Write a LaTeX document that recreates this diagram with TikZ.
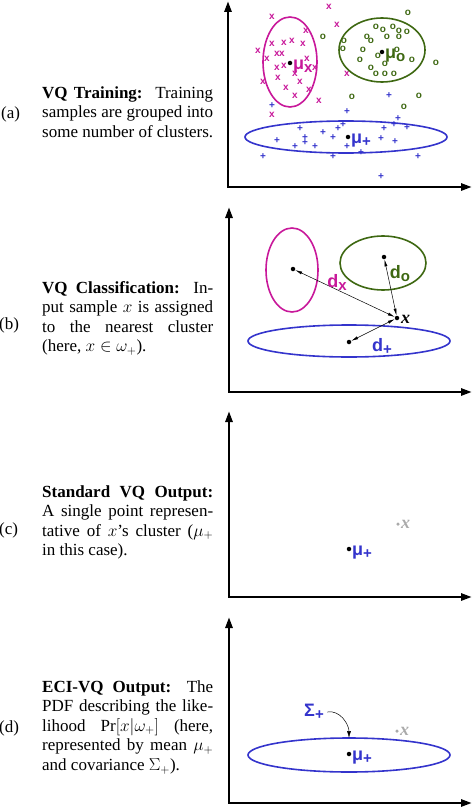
\documentclass[tikz,border=0pt]{standalone}
\usepackage{fontspec}
\setmainfont{Liberation Serif}
\setsansfont{Liberation Sans}
\usetikzlibrary{arrows.meta}
\definecolor{vqmag}{RGB}{200,24,154}
\definecolor{vqgreen}{RGB}{62,104,18}
\definecolor{vqblue}{RGB}{52,52,204}
\definecolor{vqgray}{RGB}{170,170,170}
\newcommand{\symlab}[2]{\sffamily\bfseries\fontsize{18}{18}\selectfont #1\raisebox{-3pt}{\fontsize{15}{15}\selectfont #2}}
\tikzset{
  axis/.style={line width=2.6pt, {Triangle[length=11pt,width=7pt]}-{Triangle[length=11pt,width=7pt]}},
  cluster/.style={line width=1.6pt},
  dot/.style={circle, fill=black, inner sep=0pt, minimum size=4.5pt},
  gdot/.style={circle, fill=vqgray, inner sep=0pt, minimum size=3.5pt},
  xmark/.style={font=\sffamily\bfseries\fontsize{10}{10}\selectfont, text=vqmag, inner sep=0pt},
  omark/.style={font=\sffamily\bfseries\fontsize{10}{10}\selectfont, text=vqgreen, inner sep=0pt},
  pmark/.style={font=\sffamily\bfseries\fontsize{10}{10}\selectfont, text=vqblue, inner sep=0pt},
  dist/.style={line width=0.5pt, {Latex[length=7pt,width=3pt]}-{Latex[length=7pt,width=3pt]}},
  caption/.style={anchor=base west, text width=171pt, align=justify, inner sep=0pt, font=\fontsize{17}{19.6}\selectfont},
  tag/.style={anchor=base west, inner sep=0pt, font=\fontsize{17}{19.6}\selectfont},
  xlab/.style={anchor=west, inner sep=1pt, font=\fontsize{18}{18}\selectfont\bfseries\itshape},
}

\begin{document}
\begin{tikzpicture}[x=1pt, y=-1pt]
  \useasboundingbox (0,0) rectangle (474,808);

  \node[tag] (ta) at (1,118) {(a)};
  \node[caption] (ca) at (42,98) {\textbf{VQ Training:}\ \ Training\linebreak samples are grouped into\linebreak some number of clusters.};
  \node[tag] (tb) at (-1,329) {(b)};
  \node[caption] (cb) at (42,293) {\textbf{VQ Classification:} In-\linebreak put sample $x$ is assigned\linebreak to the nearest cluster\linebreak (here, $x\in\omega_+$).};
  \node[tag] (tc) at (-1,534) {(c)};
  \node[caption] (cc) at (42,497) {\textbf{Standard VQ Output:}\linebreak A single point represen-\linebreak tative of $x$'s cluster ($\mu_+$\linebreak in this case).};
  \node[tag] (td) at (-1,732) {(d)};
  \node[caption] (cd) at (42,692) {\textbf{ECI-VQ Output:} The\linebreak PDF describing the like-\linebreak lihood $\Pr[x|\omega_+]$ (here,\linebreak represented by mean $\mu_+$\linebreak and covariance $\Sigma_+$).};

  \coordinate (ya) at (228,1);
  \coordinate (oa) at (228,187);
  \coordinate (xa) at (472,187);
  \draw[axis] (ya) -- (oa) -- (xa);
  \coordinate (yb) at (229,207);
  \coordinate (ob) at (229,392);
  \coordinate (xb) at (472,392);
  \draw[axis] (yb) -- (ob) -- (xb);
  \coordinate (yc) at (229,411);
  \coordinate (oc) at (229,597);
  \coordinate (xc) at (472,597);
  \draw[axis] (yc) -- (oc) -- (xc);
  \coordinate (yd) at (229,617);
  \coordinate (od) at (229,803);
  \coordinate (xd) at (472,803);
  \draw[axis] (yd) -- (od) -- (xd);

  \foreach \p [count=\i] in {(272,17),(329,7),(337,25),(306,31),(258,51),(272,44),(284,43),(292,41),(303,44),(277,54),(282,54),(267,59),(307,59),(277,68),(284,66),(315,68),(278,78),(295,74),(263,82),(300,82),(286,88),(309,90),(347,74),(295,96),(319,101),(272,115)}
    \node[xmark] (mx\i) at \p {x};
  \foreach \p [count=\i] in {(408,13),(323,37),(376,27),(383,30),(393,27),(399,31),(407,32),(344,41),(343,49),(367,37),(371,41),(387,37),(399,37),(363,50),(378,56),(397,50),(360,60),(412,60),(436,63),(371,68),(385,64),(376,74),(385,74),(394,74),(352,97),(419,96),(404,107)}
    \node[omark] (mo\i) at \p {o};
  \foreach \p [count=\i] in {(389,96),(272,106),(347,112),(398,119),(394,125),(343,125),(338,129),(300,129),(323,133),(333,138),(277,141),(305,138),(305,143),(384,129),(407,128),(381,139),(395,142),(295,147),(315,147),(347,147),(361,153),(263,157),(333,157),(418,157),(381,177)}
    \node[pmark] (mp\i) at \p {+};

  \draw[cluster, vqmag] (290,62) ellipse [x radius=27, y radius=45];
  \draw[cluster, vqgreen] (382,50) ellipse [x radius=43, y radius=32];
  \draw[cluster, vqblue] (346,137) ellipse [x radius=101, y radius=16];
  \node[dot] (mua) at (290,63) {};
  \node[anchor=west, inner sep=1pt, text=vqmag] (lmua) at (292,67) {\symlab{μ}{x}};
  \node[dot] (moa) at (382,52) {};
  \node[anchor=west, inner sep=1pt, text=vqgreen] (lmoa) at (384,56) {\symlab{μ}{o}};
  \node[dot] (mpa) at (348,137) {};
  \node[anchor=west, inner sep=1pt, text=vqblue] (lmpa) at (350,141) {\symlab{μ}{+}};

  \draw[cluster, vqmag] (292,270) ellipse [x radius=26, y radius=42];
  \draw[cluster, vqgreen] (383,263) ellipse [x radius=43, y radius=27];
  \draw[cluster, vqblue] (349,341) ellipse [x radius=101, y radius=16];
  \node[dot] (mub) at (293,269) {};
  \node[dot] (mob) at (384,257) {};
  \node[dot] (mpb) at (349,342) {};
  \node[dot] (xb0) at (397,318) {};
  \node[xlab] (lxb) at (400,319) {x};
  \draw[dist] (mub) -- (xb0);
  \draw[dist] (mob) -- (xb0);
  \draw[dist] (mpb) -- (xb0);
  \node[text=vqmag] (ldx) at (337,282) {\symlab{d}{x}};
  \node[text=vqgreen] (ldo) at (400,274) {\symlab{d}{o}};
  \node[text=vqblue] (ldp) at (382,346) {\symlab{d}{+}};

  \node[gdot] (xc0) at (398,524) {};
  \node[xlab, text=vqgray] (lxc) at (400,524) {x};
  \node[dot] (mpc) at (349,549) {};
  \node[anchor=west, inner sep=1pt, text=vqblue] (lmpc) at (351,553) {\symlab{μ}{+}};

  \draw[cluster, vqblue] (349,755) ellipse [x radius=101, y radius=17];
  \coordinate (topd) at (349,738);
  \node[gdot] (xd0) at (397,731) {};
  \node[xlab, text=vqgray] (lxd) at (399,731) {x};
  \node[dot] (mpd) at (349,754) {};
  \node[anchor=west, inner sep=1pt, text=vqblue] (lmpd) at (351,758) {\symlab{μ}{+}};
  \node[text=vqblue] (sig) at (314,712) {\symlab{Σ}{+}};
  \draw[line width=0.5pt, -{Latex[length=7pt,width=4pt]}] (sig.east) to[out=10, in=90] (topd);
\end{tikzpicture}
\end{document}
